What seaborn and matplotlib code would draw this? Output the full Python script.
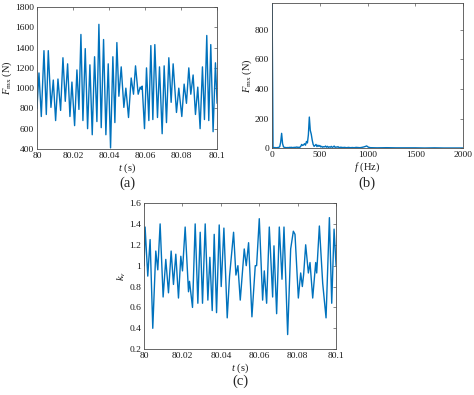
import matplotlib
matplotlib.use("Agg")
import matplotlib.pyplot as plt
import seaborn as sns
import numpy as np
import pandas as pd

# ---------------- data ----------------
# (a) force time history, offsets from 80 s
t_a = [0.0000, 0.00111, 0.00240, 0.00388, 0.00518, 0.00628, 0.00776, 0.00906, 0.01035, 0.01165,
       0.01312, 0.01442, 0.01571, 0.01701, 0.01830, 0.01941, 0.02089, 0.02218, 0.02329, 0.02440,
       0.02551, 0.02680, 0.02810, 0.02939, 0.03068, 0.03198, 0.03327, 0.03438, 0.03567, 0.03697,
       0.03826, 0.03956, 0.04085, 0.04214, 0.04325, 0.04436, 0.04547, 0.04677, 0.04824, 0.04935,
       0.05083, 0.05231, 0.05360, 0.05471, 0.05619, 0.05730, 0.05786, 0.05841, 0.05970, 0.06081,
       0.06211, 0.06322, 0.06433, 0.06543, 0.06691, 0.06802, 0.06950, 0.07061, 0.07190, 0.07320,
       0.07449, 0.07560, 0.07745, 0.07874, 0.08041, 0.08170, 0.08299, 0.08429, 0.08540, 0.08669,
       0.08799, 0.08928, 0.09057, 0.09187, 0.09298, 0.09427, 0.09538, 0.09649, 0.09778, 0.09908,
       0.1000]
F_a = [800, 1150, 720, 1370, 740, 1370, 810, 1080, 680, 1090,
       780, 1300, 870, 1240, 720, 1060, 630, 1180, 790, 1530,
       680, 1390, 600, 1230, 540, 1310, 670, 1630, 610, 1480,
       540, 1240, 410, 1310, 660, 1450, 920, 1210, 810, 1000,
       710, 1100, 940, 1220, 940, 1010, 990, 1020, 600, 1200,
       680, 1420, 690, 1430, 710, 1210, 550, 1220, 660, 1300,
       860, 1240, 760, 1000, 720, 1040, 850, 1200, 940, 1130,
       740, 1010, 600, 1210, 690, 1520, 680, 1430, 570, 1250,
       850]

# (b) spectrum
f_b = [0, 10, 20, 30, 40, 50, 60, 70, 80, 90, 100, 110, 120, 130, 140, 150, 160, 170, 180, 190,
       200, 210, 220, 230, 240, 250, 260, 270, 280, 290, 300, 310, 320, 330, 340, 350, 360, 370,
       380, 390, 400, 410, 420, 430, 440, 450, 460, 470, 480, 490, 500, 510, 520, 530, 540, 550,
       560, 570, 580, 590, 600, 610, 620, 630, 640, 650, 660, 670, 680, 690, 700, 720, 740, 760,
       780, 800, 820, 840, 860, 880, 900, 920, 940, 960, 980, 990, 1000, 1010, 1030, 1100, 1200,
       1300, 1400, 1500, 1600, 1700, 1800, 1900, 2000]
A_b = [1000, 5, 3, 4, 2, 3, 4, 5, 10, 40, 100, 30, 8, 5, 4, 3, 4, 3, 5, 4,
       6, 3, 5, 4, 6, 5, 8, 4, 6, 5, 12, 25, 18, 22, 30, 20, 45, 35,
       90, 210, 120, 95, 55, 25, 12, 18, 25, 10, 20, 12, 18, 8, 12, 6, 10, 8,
       14, 6, 12, 5, 9, 6, 12, 5, 8, 14, 5, 8, 6, 10, 4, 6, 4, 5,
       3, 5, 3, 4, 3, 5, 4, 3, 5, 8, 12, 15, 10, 6, 3, 2, 3,
       2, 2, 2, 1, 2, 1, 1, 1]

# (c) k_v time history, offsets from 80 s
t_c = [0.0, 0.00052, 0.00191, 0.00313, 0.00452, 0.00609, 0.00713, 0.00835, 0.00991, 0.01130,
       0.01270, 0.01409, 0.01530, 0.01652, 0.01791, 0.01913, 0.02000, 0.02139, 0.02313, 0.02365,
       0.02522, 0.02661, 0.02800, 0.02922, 0.03043, 0.03183, 0.03322, 0.03426, 0.03548, 0.03652,
       0.03774, 0.03913, 0.04017, 0.04157, 0.04330, 0.04452, 0.04661, 0.04783, 0.04887, 0.05009,
       0.05217, 0.05322, 0.05443, 0.05617, 0.05791, 0.05861, 0.06000, 0.06174, 0.06261, 0.06383,
       0.06522, 0.06696, 0.06765, 0.06904, 0.07043, 0.07183, 0.07287, 0.07478, 0.07635, 0.07774,
       0.07861, 0.08035, 0.08157, 0.08243, 0.08313, 0.08417, 0.08557, 0.08643, 0.08783, 0.08939,
       0.08991, 0.09130, 0.09304, 0.09478, 0.09652, 0.09774, 0.09896, 0.1]
k_c = [1.0, 1.37, 0.9, 1.25, 0.4, 1.14, 0.96, 1.4, 0.7, 1.06,
       0.74, 1.14, 0.82, 1.11, 0.69, 1.09, 0.95, 1.37, 0.75, 0.85,
       0.6, 1.4, 0.64, 1.32, 0.64, 1.4, 0.67, 1.08, 0.57, 1.3,
       0.55, 1.39, 0.8, 1.36, 0.5, 0.9, 1.32, 0.91, 1.0, 0.67,
       1.16, 1.0, 1.22, 0.51, 1.0, 1.0, 1.45, 0.67, 0.95, 0.64,
       1.37, 0.7, 1.19, 0.54, 1.37, 0.87, 1.37, 0.34, 1.16, 1.33,
       1.3, 0.69, 0.93, 0.8, 0.92, 1.2, 0.93, 1.03, 0.69, 1.03,
       0.93, 1.38, 0.83, 0.5, 1.46, 0.64, 1.35, 1.0]

t_ticks = [80, 80.02, 80.04, 80.06, 80.08, 80.1]
t_ticklabels = ["80", "80.02", "80.04", "80.06", "80.08", "80.1"]

# ---------------- style ----------------
sns.set_theme(style="white")
plt.rcParams["font.family"] = ["Liberation Serif", "DejaVu Serif"]
plt.rcParams["mathtext.fontset"] = "custom"
plt.rcParams["mathtext.rm"] = "Liberation Serif"
plt.rcParams["mathtext.it"] = "Liberation Serif:italic"

LINE = "#0072BD"
SPINE = "#4d4d4d"
TICK_FS = 6.8
LAB_FS = 7.6

fig = plt.figure(figsize=(4.74, 3.95), dpi=100)
ax_a = fig.add_axes([0.078, 0.623, 0.380, 0.359])
ax_b = fig.add_axes([0.574, 0.625, 0.403, 0.367])
ax_c = fig.add_axes([0.304, 0.116, 0.405, 0.370])


def style(ax):
    for s in ax.spines.values():
        s.set_color(SPINE)
        s.set_linewidth(0.6)
    ax.tick_params(direction="in", top=True, right=True, length=2.5, width=0.5,
                   colors="#555555", labelcolor="#1a1a1a", labelsize=TICK_FS, pad=2)
    ax.grid(False)


df_a = pd.DataFrame({"t": np.array(t_a) + 80, "F": F_a})
sns.lineplot(data=df_a, x="t", y="F", ax=ax_a, color=LINE, linewidth=1.0)
ax_a.set_xlim(80, 80.1)
ax_a.set_ylim(400, 1800)
ax_a.set_xticks(t_ticks)
ax_a.set_xticklabels(t_ticklabels)
ax_a.set_yticks(range(400, 1801, 200))
ax_a.set_xlabel(r"$t$ (s)", fontsize=LAB_FS, labelpad=1, color="#1a1a1a")
ax_a.set_ylabel(r"$F_{\rm mx}$ (N)", fontsize=LAB_FS, labelpad=1, color="#1a1a1a")
style(ax_a)

df_b = pd.DataFrame({"f": f_b, "A": A_b})
sns.lineplot(data=df_b, x="f", y="A", ax=ax_b, color=LINE, linewidth=1.0)
ax_b.set_xlim(0, 2000)
ax_b.set_ylim(0, 980)
ax_b.set_xticks([0, 500, 1000, 1500, 2000])
ax_b.set_yticks([0, 200, 400, 600, 800])
ax_b.set_xlabel(r"$f$ (Hz)", fontsize=LAB_FS, labelpad=1, color="#1a1a1a")
ax_b.set_ylabel(r"$F_{\rm mx}$ (N)", fontsize=LAB_FS, labelpad=1, color="#1a1a1a")
style(ax_b)

df_c = pd.DataFrame({"t": np.array(t_c) + 80, "k": k_c})
sns.lineplot(data=df_c, x="t", y="k", ax=ax_c, color=LINE, linewidth=1.0)
ax_c.set_xlim(80, 80.1)
ax_c.set_ylim(0.2, 1.6)
ax_c.set_xticks(t_ticks)
ax_c.set_xticklabels(t_ticklabels)
ax_c.set_yticks([0.2, 0.4, 0.6, 0.8, 1.0, 1.2, 1.4, 1.6])
ax_c.set_yticklabels(["0.2", "0.4", "0.6", "0.8", "1", "1.2", "1.4", "1.6"])
ax_c.set_xlabel(r"$t$ (s)", fontsize=LAB_FS, labelpad=1, color="#1a1a1a")
ax_c.set_ylabel(r"$k_v$", fontsize=LAB_FS, labelpad=1, color="#1a1a1a")
style(ax_c)

fig.text(127 / 474, 1 - 183 / 395, "(a)", ha="center", va="center", fontsize=10.5)
fig.text(367 / 474, 1 - 183 / 395, "(b)", ha="center", va="center", fontsize=10.5)
fig.text(240 / 474, 1 - 381 / 395, "(c)", ha="center", va="center", fontsize=10.5)

fig.savefig("out.png", dpi=100, facecolor="white")
